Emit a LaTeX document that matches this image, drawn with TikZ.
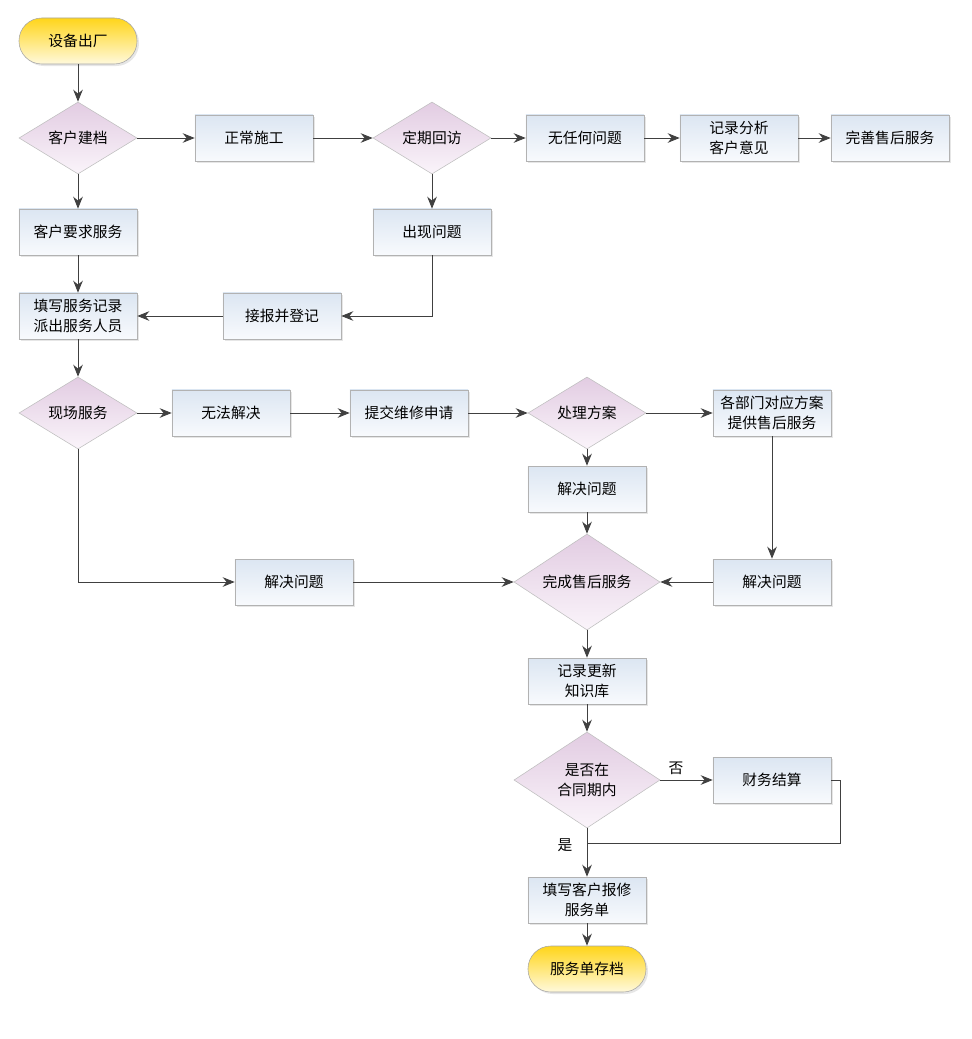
\documentclass[tikz,border=0pt]{standalone}
\usepackage{fontspec}
\setmainfont{Noto Sans CJK SC}
\usetikzlibrary{arrows.meta, shapes.geometric, shadows}

\definecolor{edgegray}{HTML}{404040}
\definecolor{boxtop}{HTML}{DCE6F2}
\definecolor{boxbot}{HTML}{F8FAFD}
\definecolor{dtop}{HTML}{E2CCE2}
\definecolor{dbot}{HTML}{FAF4FA}
\definecolor{ttop}{HTML}{FFD51A}
\definecolor{tbot}{HTML}{FFF9DC}

\tikzset{
  every node/.style={font=\fontsize{10.5}{14}\selectfont, align=center},
  proc/.style={rectangle, draw=gray!60, minimum width=2.95cm, minimum height=1.15cm,
    top color=boxtop, bottom color=boxbot, drop shadow={opacity=0.2, shadow xshift=0.05cm, shadow yshift=-0.05cm}},
  dec/.style={diamond, draw=gray!50, minimum width=2.95cm, minimum height=1.8cm, aspect=1.64, inner sep=0pt,
    top color=dtop, bottom color=dbot},
  bigdec/.style={dec, minimum width=3.65cm, minimum height=2.4cm, aspect=1.52},
  term/.style={rectangle, rounded corners=0.57cm, draw=gray!70, minimum width=2.95cm, minimum height=1.15cm,
    top color=ttop, bottom color=tbot, drop shadow={opacity=0.2, shadow xshift=0.05cm, shadow yshift=-0.05cm}},
  flow/.style={draw=edgegray, line width=0.6pt, -{Stealth[length=3mm, width=2.4mm]}},
  line/.style={draw=edgegray, line width=0.6pt}
}

\begin{document}
\begin{tikzpicture}[x=0.025cm, y=-0.025cm]
\useasboundingbox (0,0) rectangle (972,1039);

% Nodes
\node[term] (start) at (78,41) {设备出厂};
\node[dec] (archive) at (78,138) {客户建档};
\node[proc] (build) at (254,138) {正常施工};
\node[dec] (visit) at (432,138) {定期回访};
\node[proc] (noissue) at (585,138) {无任何问题};
\node[proc] (record) at (739,138) {记录分析\\客户意见};
\node[proc] (improve) at (890,138) {完善售后服务};
\node[proc] (request) at (78,232) {客户要求服务};
\node[proc] (issue) at (432,232) {出现问题};
\node[proc] (fill) at (78,316) {填写服务记录\\派出服务人员};
\node[proc] (report) at (282,316) {接报并登记};
\node[dec] (onsite) at (78,413) {现场服务};
\node[proc] (fail) at (231,413) {无法解决};
\node[proc] (submit) at (409,413) {提交维修申请};
\node[dec] (plan) at (587,413) {处理方案};
\node[proc] (depts) at (772,413) {各部门对应方案\\提供售后服务};
\node[proc] (solveA) at (587,489) {解决问题};
\node[bigdec] (done) at (587,582) {完成售后服务};
\node[proc] (solveB) at (294,582) {解决问题};
\node[proc] (solveC) at (772,582) {解决问题};
\node[proc] (kb) at (587,681) {记录更新\\知识库};
\node[bigdec] (contract) at (587,780) {是否在\\合同期内};
\node[proc] (finance) at (772,780) {财务结算};
\node[proc] (form) at (587,900) {填写客户报修\\服务单};
\node[term] (store) at (587,969) {服务单存档};

\coordinate (fcorner) at (840,780);
\coordinate (fbottom) at (840,843);
\coordinate (join) at (587,843);

% Connectors
\draw[flow] (start) -- (archive);
\draw[flow] (archive) -- (build);
\draw[flow] (build) -- (visit);
\draw[flow] (visit) -- (noissue);
\draw[flow] (noissue) -- (record);
\draw[flow] (record) -- (improve);
\draw[flow] (archive) -- (request);
\draw[flow] (visit) -- (issue);
\draw[flow] (request) -- (fill);
\draw[flow] (issue.south) |- (report.east);
\draw[flow] (report) -- (fill);
\draw[flow] (fill) -- (onsite);
\draw[flow] (onsite) -- (fail);
\draw[flow] (fail) -- (submit);
\draw[flow] (submit) -- (plan);
\draw[flow] (plan) -- (depts);
\draw[flow] (plan) -- (solveA);
\draw[flow] (solveA) -- (done);
\draw[flow] (onsite.south) |- (solveB.west);
\draw[flow] (solveB) -- (done);
\draw[flow] (depts) -- (solveC);
\draw[flow] (solveC) -- (done);
\draw[flow] (done) -- (kb);
\draw[flow] (kb) -- (contract);
\draw[flow] (contract) -- node[above, pos=0.3] {否} (finance);
\draw[flow] (contract) -- (form);
\node at (565,845) (yes) {是};
\draw[line] (finance.east) -- (fcorner) -- (fbottom) -- (join);
\draw[flow] (form) -- (store);

\end{tikzpicture}
\end{document}
